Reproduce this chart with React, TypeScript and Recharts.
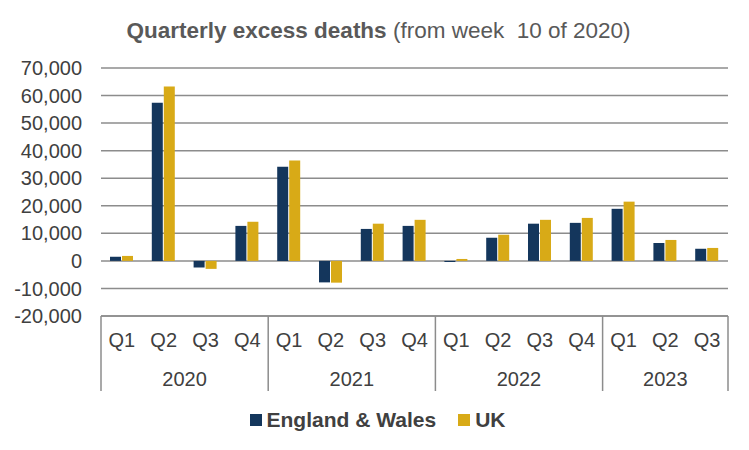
import { BarChart, Bar, XAxis, YAxis, CartesianGrid, Legend } from "recharts";

const quarters = ["Q1", "Q2", "Q3", "Q4", "Q1", "Q2", "Q3", "Q4", "Q1", "Q2", "Q3", "Q4", "Q1", "Q2", "Q3"];
const years = ["2020", "2020", "2020", "2020", "2021", "2021", "2021", "2021", "2022", "2022", "2022", "2022", "2023", "2023", "2023"];
const englandWales = [1500, 57400, -2400, 12700, 34200, -7800, 11600, 12700, -400, 8400, 13500, 13800, 18900, 6500, 4400];
const uk = [1800, 63300, -2900, 14200, 36400, -7900, 13500, 14900, 700, 9500, 14900, 15600, 21500, 7600, 4700];
const yTicks = [-20000, -10000, 0, 10000, 20000, 30000, 40000, 50000, 60000, 70000];

const data = quarters.map((q, i) => ({
  q,
  year: years[i],
  ew: englandWales[i],
  uk: uk[i],
}));

const W = 749;
const H = 450;
const MARGIN = { top: 68, right: 21, left: 0, bottom: 1 };
const Y_WIDTH = 101;
const X_HEIGHT = 75;
const BAND = (W - MARGIN.left - MARGIN.right - Y_WIDTH) / data.length;

const FONT = "'Liberation Sans', Arial, sans-serif";
const TEXT = "#404040";
const GRID = "#8c8c8c";
const NAVY = "#14365c";
const GOLD = "#d8aa17";

// quarter label plus the year row and the box dividers underneath
function QuarterTick(props: any) {
  const { x, y, payload } = props;
  const i: number = payload.index;
  const year = years[i];
  const first = i === 0 || years[i - 1] !== year;
  const last = i === years.length - 1;
  const groupSize = years.filter((v) => v === year).length;
  return (
    <g>
      <text x={x} y={y + 31} textAnchor="middle" fill={TEXT} fontSize={20} fontFamily={FONT}>
        {payload.value}
      </text>
      {first && (
        <>
          <line x1={x - BAND / 2} x2={x - BAND / 2} y1={y} y2={y + X_HEIGHT} stroke={GRID} strokeWidth={1.5} />
          <text
            x={x + ((groupSize - 1) / 2) * BAND}
            y={y + 70}
            textAnchor="middle"
            fill={TEXT}
            fontSize={20}
            fontFamily={FONT}
          >
            {year}
          </text>
        </>
      )}
      {last && (
        <line x1={x + BAND / 2} x2={x + BAND / 2} y1={y} y2={y + X_HEIGHT} stroke={GRID} strokeWidth={1.5} />
      )}
    </g>
  );
}

function LegendBox() {
  const items = [
    { label: "England & Wales", color: NAVY },
    { label: "UK", color: GOLD },
  ];
  return (
    <div
      style={{
        height: 58,
        paddingLeft: 27,
        display: "flex",
        alignItems: "center",
        justifyContent: "center",
        gap: 22,
        fontFamily: FONT,
        fontSize: 21,
        fontWeight: "bold",
        color: TEXT,
      }}
    >
      {items.map((it) => (
        <div key={it.label} style={{ display: "flex", alignItems: "center", gap: 5 }}>
          <span style={{ width: 12, height: 12, background: it.color, display: "inline-block" }} />
          <span>{it.label}</span>
        </div>
      ))}
    </div>
  );
}

export default function App() {
  return (
    <div style={{ position: "fixed", left: 0, top: 0, width: W, height: H, background: "#fff" }}>
      <div
        style={{
          position: "absolute",
          top: 20,
          left: 4,
          width: W,
          textAlign: "center",
          fontFamily: FONT,
          fontSize: 22.5,
          lineHeight: "22px",
          color: "#595959",
          whiteSpace: "pre",
        }}
      >
        <b>Quarterly excess deaths</b> (from week  10 of 2020)
      </div>
      <BarChart width={W} height={H} data={data} margin={MARGIN} barSize={11} barGap={1}>
        <CartesianGrid vertical={false} stroke={GRID} strokeWidth={1.5} />
        <YAxis
          width={Y_WIDTH}
          domain={[-20000, 70000]}
          ticks={yTicks}
          interval={0}
          axisLine={false}
          tickLine={false}
          tickSize={0}
          tickMargin={19}
          tickFormatter={(v: number) => v.toLocaleString("en-GB")}
          tick={{ fill: TEXT, fontSize: 20, fontFamily: FONT }}
        />
        <XAxis
          dataKey="q"
          height={X_HEIGHT}
          interval={0}
          tickLine={false}
          tickSize={0}
          tickMargin={0}
          axisLine={{ stroke: GRID, strokeWidth: 1.5 }}
          tick={<QuarterTick />}
        />
        <Legend verticalAlign="bottom" content={<LegendBox />} />
        <Bar dataKey="ew" name="England & Wales" fill={NAVY} isAnimationActive={false} />
        <Bar dataKey="uk" name="UK" fill={GOLD} isAnimationActive={false} />
      </BarChart>
    </div>
  );
}
